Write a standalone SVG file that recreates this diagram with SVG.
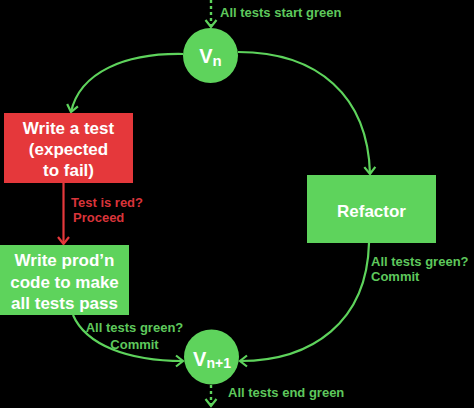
<svg xmlns="http://www.w3.org/2000/svg" width="474" height="408" viewBox="0 0 474 408">
<defs>
<style>
.bg{fill:#000}
.gfill{fill:#5ed35c}
.rfill{fill:#e5383b}
.node{font-family:"Liberation Sans",Arial,sans-serif;font-weight:bold;fill:#fff;text-anchor:middle}
.lbl{font-family:"Liberation Sans",Arial,sans-serif;font-weight:bold;font-size:13px}
.glbl{fill:#5ec85c}
.rlbl{fill:#d9343a}
.gline{fill:none;stroke:#5ed35c;stroke-width:2.2}
.rline{fill:none;stroke:#e5383b;stroke-width:2.2}
.dot{stroke-dasharray:3 3;stroke-width:2.4}
</style>
<marker id="ga" markerWidth="16" markerHeight="16" refX="0" refY="0" viewBox="-9 -8 10 16" orient="auto" markerUnits="userSpaceOnUse">
<path d="M-7,-5.5 L0,0 L-7,5.5" fill="none" stroke="#5ed35c" stroke-width="2.2"/>
</marker>
<marker id="ra" markerWidth="16" markerHeight="16" refX="0" refY="0" viewBox="-9 -8 10 16" orient="auto" markerUnits="userSpaceOnUse">
<path d="M-7,-5.5 L0,0 L-7,5.5" fill="none" stroke="#e5383b" stroke-width="2.2"/>
</marker>
</defs>
<rect class="bg" x="0" y="0" width="474" height="408"/>

<g id="connectors">
<path class="gline dot" d="M211,0 L211,27" marker-end="url(#ga)"/>
<path class="gline" d="M183,54 C125,53 80,72 71,112" marker-end="url(#ga)"/>
<path class="gline" d="M238,52 C318,52 368,96 370,174" marker-end="url(#ga)"/>
<path class="rline" d="M63.5,183 L63.5,244" marker-end="url(#ra)"/>
<path class="gline" d="M73,315 C86,345 128,361 183,361" marker-end="url(#ga)"/>
<path class="gline" d="M369,243 C367,322 312,361 240,361" marker-end="url(#ga)"/>
<path class="gline dot" d="M211,385 L211,406" marker-end="url(#ga)"/>
</g>

<g id="label-start"><text class="lbl glbl" x="220" y="17">All tests start green</text></g>
<g id="label-end"><text class="lbl glbl" x="228" y="397">All tests end green</text></g>
<g id="label-red">
<text class="lbl rlbl" x="71" y="207">Test is red?</text>
<text class="lbl rlbl" x="73" y="222">Proceed</text>
</g>
<g id="label-commit-left">
<text class="lbl glbl" x="134.5" y="332" text-anchor="middle">All tests green?</text>
<text class="lbl glbl" x="134.5" y="349" text-anchor="middle">Commit</text>
</g>
<g id="label-commit-right">
<text class="lbl glbl" x="371" y="266">All tests green?</text>
<text class="lbl glbl" x="371" y="281">Commit</text>
</g>

<g id="vn">
<circle class="gfill" cx="210.5" cy="55.5" r="27.5"/>
<text class="node" x="210.5" y="63" font-size="20">V<tspan font-size="15" dy="3">n</tspan></text>
</g>

<g id="write-test">
<rect class="rfill" x="4" y="113" width="129" height="70"/>
<text class="node" font-size="17" x="68.5" y="133.5">Write a test</text>
<text class="node" font-size="17" x="68.5" y="155">(expected</text>
<text class="node" font-size="17" x="68.5" y="176">to fail)</text>
</g>

<g id="write-code">
<rect class="gfill" x="0" y="245" width="129" height="70"/>
<text class="node" font-size="17" x="64.5" y="266">Write prod’n</text>
<text class="node" font-size="17" x="64.5" y="287.5">code to make</text>
<text class="node" font-size="17" x="64.5" y="309">all tests pass</text>
</g>

<g id="refactor">
<rect class="gfill" x="307" y="175" width="129" height="68"/>
<text class="node" font-size="17" x="371.5" y="216.5">Refactor</text>
</g>

<g id="vn1">
<circle class="gfill" cx="211.5" cy="357" r="27.5"/>
<text class="node" x="212" y="366" font-size="20">V<tspan font-size="14" dy="2">n+1</tspan></text>
</g>
</svg>
